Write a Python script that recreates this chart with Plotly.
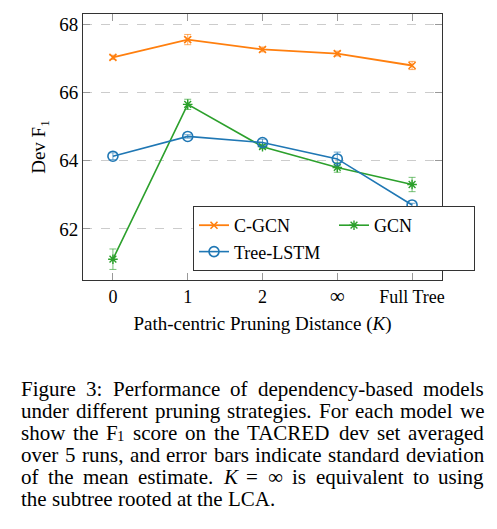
import plotly.graph_objects as go

# Pruning distance K (x categories)
categories = ["0", "1", "2", "∞", "Full Tree"]
tick_labels = ["0", "1", "2", "<span style='font-size:21px'>∞</span>", "Full Tree"]

# Dev F1 means and standard deviations
cgcn_f1 = [67.03, 67.55, 67.26, 67.14, 66.79]
cgcn_std = [0.06, 0.15, 0.07, 0.07, 0.12]
gcn_f1 = [61.11, 65.65, 64.41, 63.80, 63.30]
gcn_std = [0.30, 0.15, 0.06, 0.14, 0.21]
treelstm_f1 = [64.13, 64.71, 64.53, 64.05, 62.70]
treelstm_std = [0.10, 0.05, 0.10, 0.20, 0.05]

y_ticks = [62, 64, 66, 68]

caption_lines = [
    "Figure 3: Performance of dependency-based models",
    "under different pruning strategies. For each model we",
    "show the F<sub>1</sub> score on the TACRED dev set averaged",
    "over 5 runs, and error bars indicate standard deviation",
    "of the mean estimate. <i>K</i> = ∞ is equivalent to using",
    "the subtree rooted at the LCA.",
]

SERIF = "Liberation Serif"
W, H = 497, 529
L, R, T, B = 83, 55, 14, 249

# Times New Roman advance widths (em/1000), used to justify the caption
TIMES = {
    " ": 250, ",": 250, ".": 250, ":": 278, "-": 333, "=": 564, "∞": 713,
    "A": 722, "C": 667, "D": 722, "E": 611, "F": 556, "K": 667, "L": 611,
    "P": 556, "R": 667, "T": 611,
    "a": 444, "b": 500, "c": 444, "d": 500, "e": 444, "f": 333, "g": 500,
    "h": 500, "i": 278, "l": 278, "m": 778, "n": 500, "o": 500, "p": 500,
    "q": 500, "r": 333, "s": 389, "t": 278, "u": 500, "v": 500, "w": 722,
    "y": 500, "0": 500, "1": 500, "3": 500, "5": 500,
}
SUB_SCALE = 0.7


def split_sub(word):
    # "F<sub>1</sub>" -> ("F", "1"); plain words have no subscript
    if "<sub>" not in word:
        return word, ""
    head, rest = word.split("<sub>")
    return head, rest.split("</sub>")[0]


def text_width(text, size):
    plain = text.replace("<i>", "").replace("</i>", "")
    return sum(TIMES.get(c, 500) for c in plain) * size / 1000


def word_width(word, size):
    head, sub = split_sub(word)
    return text_width(head, size) + text_width(sub, size * SUB_SCALE)


def px_x(x):
    return (x - L) / (W - L - R)


def px_y(y):
    return (H - B - y) / (H - T - B)


def err(color, vals):
    return dict(type="data", array=vals, visible=True, color=color,
                thickness=1, width=3.5)


fig = go.Figure()

fig.add_trace(go.Scatter(
    x=categories, y=cgcn_f1, name="C-GCN", mode="lines+markers",
    line=dict(color="#ff7f0e", width=1.8),
    marker=dict(symbol="x-thin-open", size=7, line=dict(width=1.6, color="#ff7f0e")),
    error_y=err("rgba(255,127,14,0.65)", cgcn_std),
))
fig.add_trace(go.Scatter(
    x=categories, y=gcn_f1, name="GCN", mode="lines+markers",
    line=dict(color="#2ca02c", width=1.6),
    marker=dict(symbol="asterisk-open", size=8, line=dict(width=1.4, color="#2ca02c")),
    error_y=err("rgba(44,160,44,0.65)", gcn_std),
))
fig.add_trace(go.Scatter(
    x=categories, y=treelstm_f1, name="Tree-LSTM", mode="lines+markers",
    line=dict(color="#1f77b4", width=1.6),
    marker=dict(symbol="circle-open", size=10, line=dict(width=1.6, color="#1f77b4")),
    error_y=err("rgba(31,119,180,0.65)", treelstm_std),
))

# caption, justified word by word like the LaTeX original
cap_size = 21
cap_left, cap_right = 19, 482
for i, line in enumerate(caption_lines):
    words = line.split(" ")
    widths = [word_width(w, cap_size) for w in words]
    last = i == len(caption_lines) - 1
    gap = cap_size * 0.25 if last else (cap_right - cap_left - sum(widths)) / (len(words) - 1)
    x = cap_left
    y = 389 + 22 * i
    for w, wd in zip(words, widths):
        head, sub = split_sub(w)
        fig.add_annotation(
            text=head, xref="paper", yref="paper", x=px_x(x), y=px_y(y),
            xanchor="left", yanchor="middle", showarrow=False,
            font=dict(family=SERIF, size=cap_size, color="#000000"),
        )
        if sub:
            fig.add_annotation(
                text=sub, xref="paper", yref="paper",
                x=px_x(x + text_width(head, cap_size)), y=px_y(y + 3),
                xanchor="left", yanchor="middle", showarrow=False, borderpad=0,
                font=dict(family=SERIF, size=cap_size * SUB_SCALE, color="#000000"),
            )
        x += wd + gap

fig.update_layout(
    width=W, height=H,
    margin=dict(l=L, r=R, t=T, b=B),
    paper_bgcolor="white", plot_bgcolor="white",
    font=dict(family=SERIF, size=19, color="#000000"),
    xaxis=dict(
        type="category", range=[-0.4, 4.4],
        tickvals=categories, ticktext=tick_labels,
        showgrid=False, zeroline=False,
        showline=True, linecolor="#333333", linewidth=1, mirror="ticks",
        ticks="inside", ticklen=7, tickcolor="#999999",
        tickfont=dict(family=SERIF, size=18, color="#000000"),
        title=dict(text="Path-centric Pruning Distance (<i>K</i>)", standoff=10,
                   font=dict(family=SERIF, size=19)),
    ),
    yaxis=dict(
        range=[60.5, 68.3], tickvals=y_ticks,
        showgrid=True, gridcolor="#cccccc", griddash="dash", gridwidth=1,
        zeroline=False,
        showline=True, linecolor="#333333", linewidth=1, mirror="ticks",
        ticks="inside", ticklen=7, tickcolor="#999999",
        tickfont=dict(family=SERIF, size=19, color="#000000"),
        title=dict(text="Dev F<sub>1</sub>", standoff=8,
                   font=dict(family=SERIF, size=19)),
    ),
    legend=dict(
        orientation="h", x=px_x(193), y=px_y(271),
        xanchor="left", yanchor="bottom",
        entrywidth=95, entrywidthmode="pixels",
        bgcolor="white", bordercolor="#333333", borderwidth=1,
        font=dict(family=SERIF, size=18, color="#000000"),
    ),
    showlegend=True,
)

# drop the default page margin so the figure sits at the window's corner
fig.write_html("out.html", config={"displayModeBar": False},
               post_script="document.body.style.margin='0';")
